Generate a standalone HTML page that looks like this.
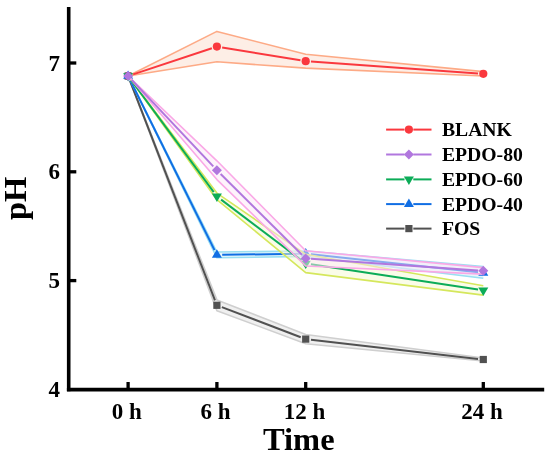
<!DOCTYPE html>
<html><head><meta charset="utf-8"><title>pH vs Time</title>
<style>
html,body{margin:0;padding:0;background:#fff;}
svg{display:block}
text{font-family:"Liberation Serif","Times New Roman",serif;font-weight:bold;fill:#000}
.tk{font-size:23px}
.ttl{font-size:32.5px}
.lg{font-size:19.7px}
</style></head><body>
<svg width="550" height="457" viewBox="0 0 550 457">
<rect width="550" height="457" fill="#fff"/>
<polygon points="128.1,76.0 216.9,31.4 305.7,54.3 483.3,71.6 483.3,76.0 305.7,68.1 216.9,61.8 128.1,76.0" fill="#FBDDCD" fill-opacity="0.5" stroke="none"/>
<polyline points="128.1,76.0 216.9,31.4 305.7,54.3 483.3,71.6" fill="none" stroke="#FDAA86" stroke-width="1.6" stroke-linejoin="round"/>
<polyline points="128.1,76.0 216.9,61.8 305.7,68.1 483.3,76.0" fill="none" stroke="#FDAA86" stroke-width="1.6" stroke-linejoin="round"/>
<line x1="133.13" y1="74.33" x2="211.87" y2="48.27" stroke="#FA383E" stroke-width="2.0"/>
<line x1="222.13" y1="47.46" x2="300.47" y2="60.34" stroke="#FA383E" stroke-width="2.0"/>
<line x1="310.99" y1="61.58" x2="478.01" y2="73.42" stroke="#FA383E" stroke-width="2.0"/>
<circle cx="128.1" cy="76" r="4.1" fill="#FA383E"/>
<circle cx="216.9" cy="46.6" r="4.1" fill="#FA383E"/>
<circle cx="305.7" cy="61.2" r="4.1" fill="#FA383E"/>
<circle cx="483.3" cy="73.8" r="4.1" fill="#FA383E"/>
<polygon points="128.1,76.0 216.9,299.9 305.7,334.5 483.3,358.0 483.3,361.0 305.7,343.7 216.9,310.7 128.1,76.0" fill="#E2E2E2" fill-opacity="0.5" stroke="none"/>
<polyline points="128.1,76.0 216.9,299.9 305.7,334.5 483.3,358.0" fill="none" stroke="#CFCFCF" stroke-width="1.6" stroke-linejoin="round"/>
<polyline points="128.1,76.0 216.9,310.7 305.7,343.7 483.3,361.0" fill="none" stroke="#CFCFCF" stroke-width="1.6" stroke-linejoin="round"/>
<line x1="130.01" y1="80.94" x2="214.99" y2="300.36" stroke="#515151" stroke-width="2.0"/>
<line x1="221.85" y1="307.19" x2="300.75" y2="337.21" stroke="#515151" stroke-width="2.0"/>
<line x1="310.97" y1="339.70" x2="478.03" y2="358.90" stroke="#515151" stroke-width="2.0"/>
<rect x="124.5" y="72.4" width="7.2" height="7.2" fill="#515151"/>
<rect x="213.3" y="301.7" width="7.2" height="7.2" fill="#515151"/>
<rect x="302.09999999999997" y="335.5" width="7.2" height="7.2" fill="#515151"/>
<rect x="479.7" y="355.9" width="7.2" height="7.2" fill="#515151"/>
<polygon points="128.1,76.0 216.9,252.0 305.7,251.0 483.3,266.5 483.3,278.2 305.7,256.4 216.9,257.8 128.1,76.0" fill="#D0F0F8" fill-opacity="0.5" stroke="none"/>
<polyline points="128.1,76.0 216.9,252.0 305.7,251.0 483.3,266.5" fill="none" stroke="#9ADFF2" stroke-width="1.6" stroke-linejoin="round"/>
<polyline points="128.1,76.0 216.9,257.8 305.7,256.4 483.3,278.2" fill="none" stroke="#9ADFF2" stroke-width="1.6" stroke-linejoin="round"/>
<line x1="130.46" y1="80.75" x2="214.54" y2="250.15" stroke="#106EE4" stroke-width="2.0"/>
<line x1="222.20" y1="254.83" x2="300.40" y2="253.77" stroke="#106EE4" stroke-width="2.0"/>
<line x1="310.97" y1="254.27" x2="478.03" y2="272.33" stroke="#106EE4" stroke-width="2.0"/>
<polygon points="128.1,70.40 133.1,78.80 123.1,78.80" fill="#106EE4"/>
<polygon points="216.9,249.30 221.9,257.70 211.9,257.70" fill="#106EE4"/>
<polygon points="305.7,248.10 310.7,256.50 300.7,256.50" fill="#106EE4"/>
<polygon points="483.3,267.30 488.3,275.70 478.3,275.70" fill="#106EE4"/>
<polygon points="128.1,76.0 216.9,193.1 305.7,254.3 483.3,285.7 483.3,295.1 305.7,272.6 216.9,199.7 128.1,76.0" fill="#F5F9D1" fill-opacity="0.5" stroke="none"/>
<polyline points="128.1,76.0 216.9,193.1 305.7,254.3 483.3,285.7" fill="none" stroke="#D5E75C" stroke-width="1.6" stroke-linejoin="round"/>
<polyline points="128.1,76.0 216.9,199.7 305.7,272.6 483.3,295.1" fill="none" stroke="#D5E75C" stroke-width="1.6" stroke-linejoin="round"/>
<line x1="131.25" y1="80.27" x2="213.75" y2="192.13" stroke="#0CAC58" stroke-width="2.0"/>
<line x1="221.13" y1="199.60" x2="301.47" y2="260.30" stroke="#0CAC58" stroke-width="2.0"/>
<line x1="310.94" y1="264.29" x2="478.06" y2="289.61" stroke="#0CAC58" stroke-width="2.0"/>
<polygon points="128.1,81.60 133.1,73.20 123.1,73.20" fill="#0CAC58"/>
<polygon points="216.9,202.00 221.9,193.60 211.9,193.60" fill="#0CAC58"/>
<polygon points="305.7,269.10 310.7,260.70 300.7,260.70" fill="#0CAC58"/>
<polygon points="483.3,296.00 488.3,287.60 478.3,287.60" fill="#0CAC58"/>
<polygon points="128.1,76.0 216.9,160.8 305.7,250.7 483.3,267.6 483.3,274.1 305.7,266.0 216.9,179.6 128.1,76.0" fill="#FEE7F7" fill-opacity="0.5" stroke="none"/>
<polyline points="128.1,76.0 216.9,160.8 305.7,250.7 483.3,267.6" fill="none" stroke="#FAA8E6" stroke-width="1.6" stroke-linejoin="round"/>
<polyline points="128.1,76.0 216.9,179.6 305.7,266.0 483.3,274.1" fill="none" stroke="#FAA8E6" stroke-width="1.6" stroke-linejoin="round"/>
<line x1="131.74" y1="79.86" x2="213.26" y2="166.34" stroke="#B177DE" stroke-width="2.0"/>
<line x1="220.66" y1="173.93" x2="301.94" y2="254.67" stroke="#B177DE" stroke-width="2.0"/>
<line x1="310.99" y1="258.77" x2="478.01" y2="270.43" stroke="#B177DE" stroke-width="2.0"/>
<polygon points="128.1,71 133.1,76 128.1,81 123.1,76" fill="#B177DE"/>
<polygon points="216.9,165.2 221.9,170.2 216.9,175.2 211.9,170.2" fill="#B177DE"/>
<polygon points="305.7,253.39999999999998 310.7,258.4 305.7,263.4 300.7,258.4" fill="#B177DE"/>
<polygon points="483.3,265.8 488.3,270.8 483.3,275.8 478.3,270.8" fill="#B177DE"/>
<line x1="68.7" y1="7" x2="68.7" y2="391.3" stroke="#000" stroke-width="3.6"/>
<line x1="66.9" y1="389.65" x2="544.2" y2="389.65" stroke="#000" stroke-width="3.6"/>
<line x1="69" y1="63" x2="76.3" y2="63" stroke="#000" stroke-width="3.3"/>
<text x="60" y="70.5" text-anchor="end" class="tk">7</text>
<line x1="69" y1="171.8" x2="76.3" y2="171.8" stroke="#000" stroke-width="3.3"/>
<text x="60" y="179.3" text-anchor="end" class="tk">6</text>
<line x1="69" y1="280.6" x2="76.3" y2="280.6" stroke="#000" stroke-width="3.3"/>
<text x="60" y="288.1" text-anchor="end" class="tk">5</text>
<text x="60" y="396.9" text-anchor="end" class="tk">4</text>
<line x1="128.1" y1="382" x2="128.1" y2="389" stroke="#000" stroke-width="3.3"/>
<text x="126.8" y="418.6" text-anchor="middle" class="tk">0 h</text>
<line x1="216.9" y1="382" x2="216.9" y2="389" stroke="#000" stroke-width="3.3"/>
<text x="215.6" y="418.6" text-anchor="middle" class="tk">6 h</text>
<line x1="305.7" y1="382" x2="305.7" y2="389" stroke="#000" stroke-width="3.3"/>
<text x="304.4" y="418.6" text-anchor="middle" class="tk">12 h</text>
<line x1="483.3" y1="382" x2="483.3" y2="389" stroke="#000" stroke-width="3.3"/>
<text x="482.0" y="418.6" text-anchor="middle" class="tk">24 h</text>
<text x="298.8" y="449.5" text-anchor="middle" class="ttl">Time</text>
<text transform="translate(26.3,198.3) rotate(-90)" text-anchor="middle" class="ttl">pH</text>
<line x1="386.1" y1="129.6" x2="404.5" y2="129.6" stroke="#FA383E" stroke-width="2"/>
<line x1="413.3" y1="129.6" x2="431.5" y2="129.6" stroke="#FA383E" stroke-width="2"/>
<circle cx="408.9" cy="129.6" r="4.1" fill="#FA383E"/>
<text x="441.9" y="136.2" class="lg">BLANK</text>
<line x1="386.1" y1="154.5" x2="404.5" y2="154.5" stroke="#B177DE" stroke-width="2"/>
<line x1="413.3" y1="154.5" x2="431.5" y2="154.5" stroke="#B177DE" stroke-width="2"/>
<polygon points="408.9,149.5 413.9,154.5 408.9,159.5 403.9,154.5" fill="#B177DE"/>
<text x="441.9" y="161.1" class="lg">EPDO-80</text>
<line x1="386.1" y1="179.4" x2="404.5" y2="179.4" stroke="#0CAC58" stroke-width="2"/>
<line x1="413.3" y1="179.4" x2="431.5" y2="179.4" stroke="#0CAC58" stroke-width="2"/>
<polygon points="408.9,185.00 413.9,176.60 403.9,176.60" fill="#0CAC58"/>
<text x="441.9" y="186.0" class="lg">EPDO-60</text>
<line x1="386.1" y1="204.1" x2="404.5" y2="204.1" stroke="#106EE4" stroke-width="2"/>
<line x1="413.3" y1="204.1" x2="431.5" y2="204.1" stroke="#106EE4" stroke-width="2"/>
<polygon points="408.9,198.50 413.9,206.90 403.9,206.90" fill="#106EE4"/>
<text x="441.9" y="210.7" class="lg">EPDO-40</text>
<line x1="386.1" y1="228.6" x2="404.5" y2="228.6" stroke="#515151" stroke-width="2"/>
<line x1="413.3" y1="228.6" x2="431.5" y2="228.6" stroke="#515151" stroke-width="2"/>
<rect x="405.29999999999995" y="225.0" width="7.2" height="7.2" fill="#515151"/>
<text x="441.9" y="235.2" class="lg">FOS</text>
</svg>
</body></html>
